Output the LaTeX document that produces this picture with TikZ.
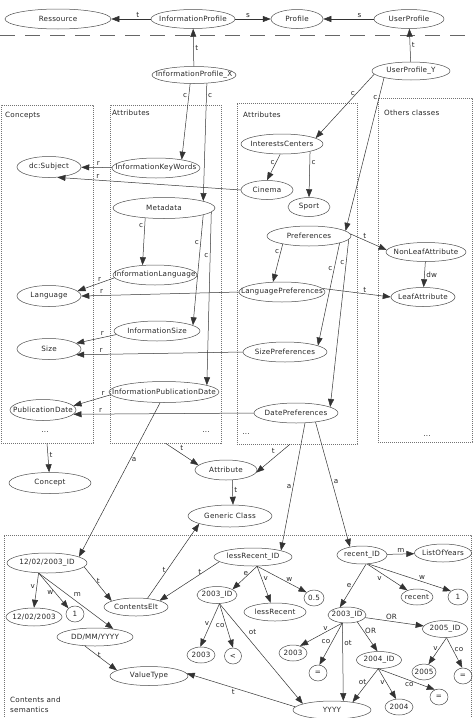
\documentclass[tikz,border=0pt]{standalone}
\usepackage{fontspec}
\setmainfont{DejaVu Sans}[LetterSpace=3]
\usetikzlibrary{shapes.geometric, arrows.meta}
\begin{document}
\begin{tikzpicture}[x=1pt,y=-1pt,
  every node/.style={font=\fontsize{7.2}{8}\selectfont, text=black!85},
  el/.style={ellipse, draw=black!70, line width=0.5pt, inner sep=0pt, minimum height=18,
     execute at begin node={\hbox to 0pt\bgroup\hss}, execute at end node={\hss\egroup}},
  box/.style={rectangle, draw=black!55, line width=0.45pt, dash pattern=on 1.2pt off 0.8pt, inner sep=0pt},
  ttl/.style={anchor=west, inner sep=0pt},
  arr/.style={draw=black!80, line width=0.5pt, -{Triangle[length=8pt,width=6pt]}},
  lab/.style={inner sep=1.5pt},
]
\useasboundingbox (0,0) rectangle (474,718);

% separator
\draw[black!60, line width=0.5pt, dash pattern=on 15pt off 10pt] (0,35) -- (474,35);

% boxes
\node[box, minimum width=92, minimum height=338] (bconc) at (47,274) {};
\node[box, minimum width=111, minimum height=338] (batt1) at (165.5,274) {};
\node[box, minimum width=120, minimum height=341] (batt2) at (297,273.5) {};
\node[box, minimum width=94, minimum height=344] (both) at (425,270) {};
\node[box, minimum width=467, minimum height=183] (bcont) at (237.5,626.5) {};
\node[ttl] (tconc) at (5,116) {Concepts};
\node[ttl] (tatt1) at (112,113) {Attributes};
\node[ttl] (tatt2) at (243,115) {Attributes};
\node[ttl] (toth) at (384,113) {Others classes};
\node[anchor=north west, inner sep=0pt, align=left, font=\fontsize{7.2}{10}\selectfont] (tcs) at (10,697) {Contents and\\semantics};
\node (dots1) at (45,432) {...};
\node (dots2) at (206,432) {...};
\node (dots3) at (246,434) {...};
\node (dots4) at (427,436) {...};

% top
\node[el, minimum width=106, minimum height=20] (res) at (58,19) {Ressource};
\node[el, minimum width=84, minimum height=19] (ip) at (193,19) {InformationProfile};
\node[el, minimum width=52, minimum height=19] (prof) at (297,19) {Profile};
\node[el, minimum width=70, minimum height=19] (up) at (409,19) {UserProfile};
\node[el, minimum width=84, minimum height=17] (ipx) at (194,75) {InformationProfile\_X};
\node[el, minimum width=78, minimum height=18] (upy) at (411,71) {UserProfile\_Y};

% concepts
\node[el, minimum width=64, minimum height=21] (dcs) at (49,167) {dc:Subject};
\node[el, minimum width=64, minimum height=21] (lang) at (49,296) {Language};
\node[el, minimum width=64, minimum height=21] (size) at (49,349) {Size};
\node[el, minimum width=66, minimum height=21] (pubd) at (43,410) {PublicationDate};
\node[el, minimum width=82, minimum height=21] (concept) at (50,483) {Concept};

% attributes 1
\node[el, minimum width=88, minimum height=20] (ikw) at (156,168) {InformationKeyWords};
\node[el, minimum width=102, minimum height=21] (meta) at (164,208) {Metadata};
\node[el, minimum width=84, minimum height=20] (ilang) at (155,275) {InformationLanguage};
\node[el, minimum width=86, minimum height=20] (isize) at (157,331) {InformationSize};
\node[el, minimum width=110, minimum height=21] (ipd) at (164,392) {InformationPublicationDate};

% attributes 2
\node[el, minimum width=82, minimum height=20] (ic) at (282,144) {InterestsCenters};
\node[el, minimum width=52, minimum height=19] (cin) at (267,190) {Cinema};
\node[el, minimum width=42, minimum height=19] (sport) at (309,207) {Sport};
\node[el, minimum width=84, minimum height=20] (pref) at (309,236) {Preferences};
\node[el, minimum width=86, minimum height=20] (lp) at (282,292) {LanguagePreferences};
\node[el, minimum width=84, minimum height=20] (sp) at (285,352) {SizePreferences};
\node[el, minimum width=84, minimum height=20] (dp) at (296,413) {DatePreferences};

% others
\node[el, minimum width=80, minimum height=19] (nla) at (426,252) {NonLeafAttribute};
\node[el, minimum width=64, minimum height=19] (la) at (423,297) {LeafAttribute};

% middle
\node[el, minimum width=62, minimum height=20] (attr) at (226,470) {Attribute};
\node[el, minimum width=84, minimum height=22] (gc) at (230,516) {Generic Class};

% contents
\node[el, minimum width=80, minimum height=20] (d12id) at (47,563) {12/02/2003\_ID};
\node[el, minimum width=64, minimum height=18] (ce) at (136,607) {ContentsElt};
\node[el, minimum width=56, minimum height=18] (d12) at (34,617) {12/02/2003};
\node[el, minimum width=18, minimum height=16] (one1) at (75,614) {1};
\node[el, minimum width=76, minimum height=18] (ddmm) at (95,637) {DD/MM/YYYY};
\node[el, minimum width=78, minimum height=19] (vt) at (149,676) {ValueType};
\node[el, minimum width=78, minimum height=18] (lrid) at (253,557) {lessRecent\_ID};
\node[el, minimum width=62, minimum height=18] (lr) at (275,612) {lessRecent};
\node[el, minimum width=20, minimum height=16] (half) at (314,598) {0.5};
\node[el, minimum width=40, minimum height=17] (y3l) at (217,595) {2003\_ID};
\node[el, minimum width=28, minimum height=16] (y03l) at (201,655) {2003};
\node[el, minimum width=17, minimum height=16] (lt) at (233,656) {<};
\node[el, minimum width=78, minimum height=18] (yyyy) at (332,710) {YYYY};
\node[el, minimum width=50, minimum height=18] (rid) at (362,555) {recent\_ID};
\node[el, minimum width=57, minimum height=18] (loy) at (443,553) {ListOfYears};
\node[el, minimum width=32, minimum height=16] (rec) at (417,597) {recent};
\node[el, minimum width=20, minimum height=16] (one2) at (458,597) {1};
\node[el, minimum width=38, minimum height=16] (y3r) at (347,615) {2003\_ID};
\node[el, minimum width=28, minimum height=16] (y03r) at (293,653) {2003};
\node[el, minimum width=18, minimum height=16] (eq1) at (318,673) {=};
\node[el, minimum width=45, minimum height=17] (y4) at (379,660) {2004\_ID};
\node[el, minimum width=28, minimum height=16] (y04) at (399,707) {2004};
\node[el, minimum width=18, minimum height=16] (eq2) at (439,697) {=};
\node[el, minimum width=45, minimum height=17] (y5) at (445,629) {2005\_ID};
\node[el, minimum width=24, minimum height=16] (y05) at (424,672) {2005};
\node[el, minimum width=18, minimum height=16] (eq3) at (463,676) {=};

% top edges
\draw[arr] (ip) -- node[lab,above,pos=0.33]{t} (res);
\draw[arr] (ip) -- node[lab,above,pos=0.36]{s} (prof);
\draw[arr] (up) -- node[lab,above,pos=0.28]{s} (prof);
\draw[arr] (ipx) -- node[lab,right,pos=0.5]{t} (ip);
\draw[arr] (upy) -- node[lab,right,pos=0.5]{t} (up);

% information profile
\draw[arr] (ipx.-114) -- node[lab,left,pos=0.16]{c} (ikw.18);
\draw[arr] (ipx.-33) -- node[lab,right,pos=0.1]{c} (meta.10);
\draw[arr] (meta.-152) -- node[lab,left,pos=0.15]{c} (ilang.142);
\draw[arr] (meta.-10) -- node[lab,left,pos=0.25]{c} (isize.9);
\draw[arr] (meta.-5) -- node[lab,left,pos=0.25]{c} (ipd.9);

% r edges
\draw[arr] (ikw) -- node[lab,above,pos=0.44]{r} (dcs);
\draw[arr] (cin.west) -- node[lab,above,pos=0.78]{r} (dcs.-51);
\draw[arr] (ilang.184) -- node[lab,above,pos=0.4]{r} (lang.10);
\draw[arr] (lp.west) -- node[lab,above,pos=0.87]{r} (lang.east);
\draw[arr] (isize.185) -- node[lab,above,pos=0.35]{r} (size.12);
\draw[arr] (sp.west) -- node[lab,above,pos=0.85]{r} (size.-12);
\draw[arr] (ipd.183) -- node[lab,above,pos=0.2]{r} (pubd.8);
\draw[arr] (dp.west) -- node[lab,above,pos=0.85]{r} (pubd.-8);

% user profile
\draw[arr] (upy.-175) -- node[lab,left,pos=0.3]{c} (ic.10);
\draw[arr] (upy.-166) -- node[lab,left,pos=0.13]{c} (pref.8);
\draw[arr] (ic.-100) -- node[lab,left,pos=0.3]{c} (cin.north);
\draw[arr] (ic.-15) -- node[lab,right,pos=0.25]{c} (sport.north);
\draw[arr] (pref.-163) -- node[lab,left,pos=0.2]{c} (lp.132);
\draw[arr] (pref.-13) -- node[lab,left,pos=0.25]{c} (sp.11);
\draw[arr] (pref.-5) -- node[lab,left,pos=0.14]{c} (dp.10);
\draw[arr] (pref.3) -- node[lab,above,pos=0.4]{t} (nla.177);
\draw[arr] (nla) -- node[lab,right]{dw} (la);
\draw[arr] (lp.5) -- node[lab,above,pos=0.62]{t} (la.west);

% to generic
\draw[arr] (bconc.south) -- node[lab,right,pos=0.4]{t} (concept);
\draw[arr] (batt1.south) -- node[lab,above right,pos=0.4]{t} (attr.170);
\draw[arr] ([xshift=-7pt]batt2.south) -- node[lab,above left,pos=0.4]{t} (attr.-5);
\draw[arr] (attr.-58) -- node[lab,right,pos=0.4]{t} (gc.75);
\draw[arr] (ipd.-110) -- node[lab,right,pos=0.37]{a} (d12id.11);
\draw[arr] (dp.-48) -- node[lab,left,pos=0.5]{a} (lrid.13);
\draw[arr] (dp.-25) -- node[lab,right,pos=0.48]{a} (rid.146);

% contents
\draw[arr] (d12id.-130) -- node[lab,left,pos=0.4]{v} (d12.north);
\draw[arr] (d12id.-130) -- node[lab,left,pos=0.55]{w} (one1.139);
\draw[arr] (d12id.-130) -- node[lab,above right,pos=0.45]{m} (ddmm.24);
\draw[arr] (d12id.-6) -- node[lab,right,pos=0.4]{t} (ce.166);
\draw[arr] (ce.37) -- node[lab,left,pos=0.38]{t} (gc.-166);
\draw[arr] (lrid.-172) -- node[lab,above right,pos=0.38]{t} (ce.15);
\draw[arr] (lrid.-66) -- node[lab,left,pos=0.3]{e} (y3l.20);
\draw[arr] (lrid.-66) -- node[lab,right,pos=0.35]{v} (lr.115);
\draw[arr] (lrid.-66) -- node[lab,above,pos=0.65]{w} (half.143);
\draw[arr] (y3l.-74) -- node[lab,left,pos=0.45]{v} (y03l.95);
\draw[arr] (y3l.-74) -- node[lab,left,pos=0.5]{co} (lt.north);
\draw[arr] (y3l.-74) -- node[lab,above right,pos=0.33]{ot} (yyyy.168);
\draw[arr] (yyyy.175) -- node[lab,below,pos=0.57]{t} (vt.4);
\draw[arr] (ddmm.-139) -- node[lab,right,pos=0.35]{t} (vt.170);
\draw[arr] (rid) -- node[lab,above]{m} (loy);
\draw[arr] (rid.-66) -- node[lab,left,pos=0.5]{e} (y3r.133);
\draw[arr] (rid.-60) -- node[lab,below left,pos=0.4]{v} (rec.145);
\draw[arr] (rid.-55) -- node[lab,above,pos=0.65]{w} (one2.140);
\draw[arr] (y3r) -- node[lab,above,pos=0.45]{OR} (y5);
\draw[arr] (y3r.-34) -- node[lab,right,pos=0.3]{OR} (y4.100);
\draw[arr] (y3r.-120) -- node[lab,above,pos=0.4]{v} (y03r.45);
\draw[arr] (y3r.-120) -- node[lab,left,pos=0.45]{co} (eq1.80);
\draw[arr] (y3r.-120) -- node[lab,right,pos=0.25]{ot} (yyyy.38);
\draw[arr] (y4.-95) -- node[lab,left,pos=0.4]{ot} (yyyy.21);
\draw[arr] (y4.-95) -- node[lab,left,pos=0.45]{v} (y04.110);
\draw[arr] (y4.-95) -- node[lab,below,pos=0.55]{co} (eq2.120);
\draw[arr] (y5.-80) -- node[lab,left,pos=0.4]{v} (y05.60);
\draw[arr] (y5.-80) -- node[lab,right,pos=0.4]{co} (eq3.95);
\end{tikzpicture}
\end{document}
